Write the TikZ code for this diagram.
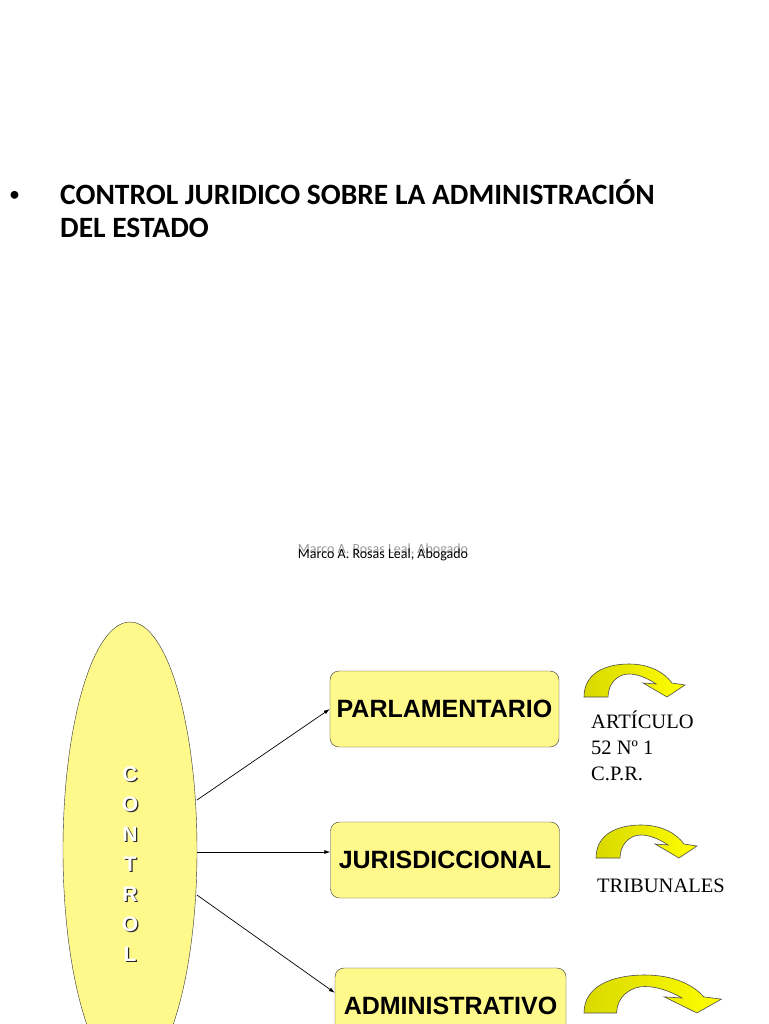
\documentclass[tikz,border=0pt]{standalone}
\usepackage{fontspec}
\setmainfont{Liberation Serif}
\newfontfamily\calfont{Carlito}
\newfontfamily\arifont{Liberation Sans}
\usetikzlibrary{arrows.meta,shapes.geometric,calc}
\tikzset{
 box/.style={draw=black!80, fill=yellow!45, rounded corners=9pt, minimum width=229pt, minimum height=76pt, font=\arifont\bfseries\fontsize{25}{29}\selectfont},
 conn/.style={-{Latex[length=6pt,width=4pt]}, line width=0.7pt},
 rt/.style={anchor=north west, align=left, font=\fontsize{20.5}{26}\selectfont, inner sep=0},
 curv/.pic={\path[draw=black!70, line width=0.6pt, left color=yellow!70!olive, right color=yellow]
  (0,33) .. controls (0,10) and (20,0) .. (45,0) .. controls (65,0) and (80,8) .. (88,19) -- (101,21) -- (83,33) -- (59,19) -- (72,20) .. controls (62,13) and (52,10) .. (45,10) .. controls (33,10) and (24,20) .. (24,33) -- cycle;}
}
\begin{document}
\begin{tikzpicture}[x=1pt,y=-1pt]
\clip (0,0) rectangle (768,1024);
\fill[white] (0,0) rectangle (768,1024);
\node[anchor=west, inner sep=0] (bul) at (9,196) {\calfont\fontsize{22}{26}\selectfont •};
\node[anchor=north west, align=left, inner sep=0, font=\calfont\bfseries\fontsize{29.5}{33}\selectfont] (title) at (60,180) {CONTROL JURIDICO SOBRE LA ADMINISTRACIÓN\\DEL ESTADO};
\node[text=black!40, inner sep=0, font=\calfont\fontsize{14}{16}\selectfont] (ftg) at (383,550) {Marco A. Rosas Leal, Abogado};
\node[inner sep=0, font=\calfont\fontsize{14}{16}\selectfont] (ft) at (383,555) {Marco A. Rosas Leal, Abogado};
\node[draw=black!80, fill=yellow!45, ellipse, minimum width=134pt, minimum height=456pt, inner sep=0] (ctl) at (130,850) {};
\foreach \l [count=\i] in {C,O,N,T,R,O,L}{
 \node[text=black!85, font=\arifont\bfseries\fontsize{21}{22}\selectfont] at (131.2,745.2+\i*30) {\l};
 \node[text=white, font=\arifont\bfseries\fontsize{21}{22}\selectfont] at (130,744+\i*30) {\l};}
\node[box] (p) at (444.5,709) {PARLAMENTARIO};
\node[box] (j) at (445,860) {JURISDICCIONAL};
\node[box, minimum width=231pt] (a) at (450.5,1006) {ADMINISTRATIVO};
\coordinate (c1) at (197,800);
\coordinate (c2) at (197,852);
\coordinate (c3) at (197,895);
\draw[conn] (c1) -- (p.west);
\draw[conn] (c2) -- (c2 -| j.west);
\draw[conn] (c3) -- ($(a.north west)+(0,25)$);
\pic at (584,664) {curv};
\pic at (596,825) {curv};
\pic[xscale=1.36,yscale=1.15] at (584,975) {curv};
\node[rt] (t1) at (591,711) {ARTÍCULO\\52 Nº 1\\C.P.R.};
\node[rt] (t2) at (597,879) {TRIBUNALES};
\end{tikzpicture}
\end{document}
